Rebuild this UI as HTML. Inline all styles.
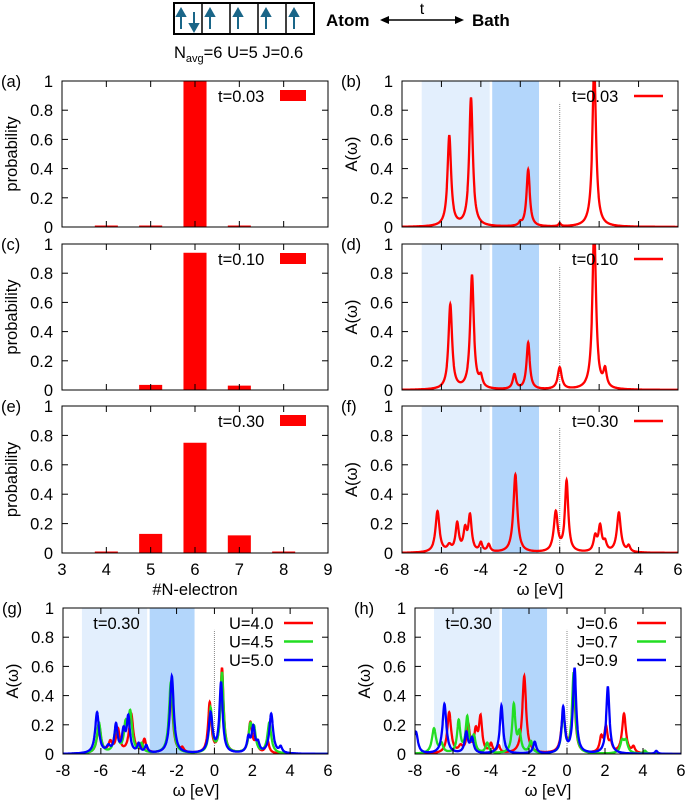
<!DOCTYPE html>
<html><head><meta charset="utf-8">
<style>
body{margin:0;background:#fff;}
svg{display:block;font-family:"Liberation Sans",sans-serif;}
</style></head>
<body>
<svg id="fig" width="685" height="802" viewBox="0 0 685 802" xmlns="http://www.w3.org/2000/svg">
<g>
  <rect x="174" y="3" width="140" height="31" fill="none" stroke="#000" stroke-width="2"/>
  <line x1="202" y1="3" x2="202" y2="34" stroke="#000" stroke-width="1.5"/>
  <line x1="230" y1="3" x2="230" y2="34" stroke="#000" stroke-width="1.5"/>
  <line x1="258" y1="3" x2="258" y2="34" stroke="#000" stroke-width="1.5"/>
  <line x1="286" y1="3" x2="286" y2="34" stroke="#000" stroke-width="1.5"/>
  <g stroke="#1a6688" stroke-width="2" fill="#1a6688">
    <line x1="181" y1="29" x2="181" y2="14"/><polygon points="177,16 185,16 181,9"/>
    <line x1="194" y1="12" x2="194" y2="26"/><polygon points="190,24 198,24 194,31"/>
    <line x1="210" y1="29" x2="210" y2="14"/><polygon points="206,16 214,16 210,9"/>
    <line x1="238" y1="29" x2="238" y2="14"/><polygon points="234,16 242,16 238,9"/>
    <line x1="266" y1="29" x2="266" y2="14"/><polygon points="262,16 270,16 266,9"/>
    <line x1="294" y1="29" x2="294" y2="14"/><polygon points="290,16 298,16 294,9"/>
  </g>
  <text x="326" y="26" font-size="17" font-weight="bold">Atom</text>
  <text x="472" y="26" font-size="17" font-weight="bold">Bath</text>
  <text x="422" y="14" font-size="16" text-anchor="middle">t</text>
  <line x1="386" y1="20" x2="458" y2="20" stroke="#000" stroke-width="1.5"/>
  <polygon points="380,20 389,16 389,24"/><polygon points="464,20 455,16 455,24"/>
  <text x="174" y="58" font-size="16.5">N<tspan font-size="11" dy="4">avg</tspan><tspan dy="-4">=6  U=5  J=0.6</tspan></text>
</g>
<g id="plots"></g>
</svg>
<script>
// ---- data ----
const nCategories=[4,5,6,7,8];
const probT003=[0.003,0.003,1.0,0.003,0];
const probT010=[0,0.035,0.94,0.03,0];
const probT030=[0.003,0.13,0.75,0.12,0.003];
const probTicks=[0,0.2,0.4,0.6,0.8,1];
const nTicks=[3,4,5,6,7,8,9];
const wTicks=[-8,-6,-4,-2,0,2,4,6];
// peaks: [position eV, height, halfwidth]
const peaksT003=[[-5.6,0.62,0.11],[-4.5,0.88,0.11],[-2.0,0.02,0.08],[-1.6,0.39,0.1],[0,0.02,0.07],[1.75,1.1,0.11]];
const peaksT010=[[-5.55,0.58,0.11],[-4.45,0.78,0.11],[-4.0,0.07,0.1],[-2.3,0.1,0.1],[-1.6,0.32,0.1],[0,0.15,0.12],[1.75,1.1,0.11],[2.3,0.12,0.1]];
const peaksT030=[[-6.2,0.28,0.12],[-5.6,0.04,0.12],[-5.2,0.19,0.1],[-4.8,0.14,0.1],[-4.55,0.24,0.1],[-4.0,0.06,0.09],[-3.6,0.05,0.09],[-2.25,0.53,0.12],[-0.2,0.27,0.12],[0.35,0.48,0.1],[1.8,0.1,0.1],[2.05,0.17,0.1],[2.3,0.06,0.1],[3.0,0.27,0.12],[3.5,0.04,0.09]];
const peaksU40=[[-6.1,0.2,0.12],[-5.5,0.07,0.12],[-5.1,0.16,0.12],[-4.4,0.27,0.13],[-3.7,0.09,0.1],[-2.3,0.43,0.12],[-1.7,0.03,0.1],[-0.25,0.34,0.1],[0.4,0.58,0.1],[1.9,0.21,0.12],[2.2,0.07,0.1],[2.8,0.09,0.1]];
const peaksU45=[[-6.1,0.21,0.12],[-5.2,0.17,0.12],[-4.7,0.17,0.1],[-4.45,0.27,0.12],[-3.85,0.06,0.1],[-2.3,0.49,0.12],[-0.2,0.3,0.1],[0.4,0.55,0.1],[1.9,0.18,0.12],[2.1,0.14,0.1],[2.9,0.21,0.12]];
const peaksU50=peaksT030;
const peaksJ06=peaksT030;
const peaksJ07=[[-7.0,0.17,0.13],[-6.6,0.06,0.1],[-5.7,0.22,0.1],[-5.25,0.24,0.1],[-4.9,0.11,0.1],[-4.2,0.07,0.1],[-2.8,0.33,0.1],[-2.5,0.13,0.1],[-1.9,0.08,0.1],[-0.2,0.28,0.1],[0.35,0.55,0.1],[2.9,0.08,0.12],[3.1,0.08,0.12],[4.1,0.02,0.09]];
const peaksJ09=[[-7.95,0.15,0.12],[-6.45,0.34,0.12],[-5.3,0.14,0.1],[-5.0,0.1,0.1],[-3.45,0.33,0.1],[-1.7,0.08,0.1],[-0.2,0.31,0.1],[0.4,0.58,0.1],[2.15,0.46,0.1],[4.7,0.02,0.08]];

const NS='http://www.w3.org/2000/svg';
const FS=16.5;
const root=document.getElementById('plots');
function mk(tag,attrs,parent){const e=document.createElementNS(NS,tag);for(const k in attrs)e.setAttribute(k,attrs[k]);(parent||root).appendChild(e);return e;}
let clipId=0;
function axes(box,xmin,xmax,xticks,showXLabels,label,ylab,name){
  const g=mk('g',{});
  
  
  const sx=v=>box.L+(v-xmin)/(xmax-xmin)*(box.R-box.L);
  const sy=v=>box.B-v*(box.B-box.T);
  const id='c'+(clipId++);
  const cp=mk('clipPath',{id:id},g);mk('rect',{x:box.L,y:box.T,width:box.R-box.L,height:box.B-box.T},cp);
  return {g,sx,sy,id,box,xticks,showXLabels,label,ylab};
}
function frame(A){
  const {g,sx,sy,box}=A;
  const fr=mk('rect',{x:box.L,y:box.T,width:box.R-box.L,height:box.B-box.T,fill:'none',stroke:'#000','stroke-width':1},g);
  
  
  probTicks.forEach(v=>{
    const y=sy(v);
    mk('line',{x1:box.L,y1:y,x2:box.L+6,y2:y,stroke:'#000'},g);
    mk('line',{x1:box.R,y1:y,x2:box.R-6,y2:y,stroke:'#000'},g);
    const t=mk('text',{x:box.L-9,y:y+6,'font-size':FS,'text-anchor':'end'},g);t.textContent=String(v);
    
    
  });
  A.xticks.forEach(v=>{
    const x=sx(v);
    mk('line',{x1:x,y1:box.B,x2:x,y2:box.B-6,stroke:'#000'},g);
    mk('line',{x1:x,y1:box.T,x2:x,y2:box.T+6,stroke:'#000'},g);
    if(A.showXLabels){const t=mk('text',{x:x,y:box.B+22,'font-size':FS,'text-anchor':'middle'},g);t.textContent=String(v);
      
      }
  });
  const pl=mk('text',{x:box.L-61,y:box.T+6,'font-size':FS},g);pl.textContent=A.label;
  
  
  const cx=box.L-45,cy=(box.T+box.B)/2;
  const yl=mk('text',{x:cx,y:cy,'font-size':FS,'text-anchor':'middle',transform:`rotate(-90 ${cx} ${cy})`},g);yl.textContent=A.ylab;
  
  
}
function barPanel(box,vals,leg,label,showX,name){
  const A=axes(box,3,9,nTicks,showX,label,'probability',name);
  const bw=(A.sx(1)-A.sx(0))*0.52;
  nCategories.forEach((c,i)=>{
    if(vals[i]<=0)return;
    const h=Math.max(1.5,A.sy(0)-A.sy(vals[i]));
    const r=mk('rect',{x:A.sx(c)-bw/2,y:A.sy(0)-h,width:bw,height:h,fill:'#ff0000'},A.g);
    
    
  });
  frame(A);
  const t=mk('text',{x:box.R-110,y:box.T+21,'font-size':FS},A.g);t.textContent=leg;
  
  
  const s=mk('rect',{x:box.R-48,y:box.T+9,width:26,height:11,fill:'#ff0000'},A.g);
  
  
  return A;
}
function curve(peaks){
  const pts=[];
  for(let i=0;i<=1400;i++){const w=-8+i*0.01;let v=0;peaks.forEach(p=>{const d=w-p[0];v+=p[1]*p[2]*p[2]/(d*d+p[2]*p[2]);});pts.push([w,v]);}
  return pts;
}
function specPanel(box,seriesList,label,showX,name,legendX,tLabel){
  const A=axes(box,-8,6,wTicks,showX,label,'A(\u03c9)',name);
  const {g,sx,sy}=A;
  const b1=mk('rect',{x:sx(-7),y:box.T,width:sx(-3.5)-sx(-7)-1,height:box.B-box.T,fill:'#e3effd'},g);
  
  
  const b2=mk('rect',{x:sx(-3.5)+1.5,y:box.T,width:sx(-1.05)-sx(-3.5)-1.5,height:box.B-box.T,fill:'#b3d6fb'},g);
  
  
  const z=mk('line',{x1:sx(0),y1:sy(0),x2:sx(0),y2:sy(0.85),stroke:'#888','stroke-width':1,'stroke-dasharray':'1,1'},g);
  
  
  seriesList.forEach((s,k)=>{
    const pts=curve(s.peaks);
    const d=pts.map((p,i)=>(i?'L':'M')+sx(p[0]).toFixed(1)+','+sy(p[1]).toFixed(1)).join('');
    const path=mk('path',{d:d,fill:'none',stroke:s.color,'stroke-width':2.3,'clip-path':`url(#${A.id})`},g);
    
    
    const ly=box.T+21+k*18.5;
    const t=mk('text',{x:legendX,y:ly,'font-size':FS},g);t.textContent=s.leg;
    
    
    const l=mk('line',{x1:box.R-44,y1:ly-6,x2:box.R-15,y2:ly-6,stroke:s.color,'stroke-width':2.5},g);
    
    
  });
  if(tLabel){const t=mk('text',{x:sx(-6.4),y:box.T+21,'font-size':FS},g);t.textContent=tLabel;
    
    }
  frame(A);
  return A;
}
const L1=62,R1=328,L2=402,R2=678;
barPanel({L:L1,R:R1,T:81,B:227},probT003,'t=0.03','(a)',false,'panel-a');
barPanel({L:L1,R:R1,T:244,B:390},probT010,'t=0.10','(c)',false,'panel-c');
barPanel({L:L1,R:R1,T:406,B:553},probT030,'t=0.30','(e)',true,'panel-e');
specPanel({L:L2,R:R2,T:81,B:227},[{peaks:peaksT003,color:'#ff0000',leg:'t=0.03',name:'t003'}],'(b)',false,'panel-b',R2-106);
specPanel({L:L2,R:R2,T:244,B:390},[{peaks:peaksT010,color:'#ff0000',leg:'t=0.10',name:'t010'}],'(d)',false,'panel-d',R2-106);
specPanel({L:L2,R:R2,T:406,B:553},[{peaks:peaksT030,color:'#ff0000',leg:'t=0.30',name:'t030'}],'(f)',true,'panel-f',R2-106);
specPanel({L:63,R:328,T:608,B:754},[{peaks:peaksU40,color:'#ff0000',leg:'U=4.0',name:'u40'},{peaks:peaksU45,color:'#22dd22',leg:'U=4.5',name:'u45'},{peaks:peaksU50,color:'#0000ff',leg:'U=5.0',name:'u50'}],'(g)',true,'panel-g',229,'t=0.30');
specPanel({L:415,R:681,T:608,B:754},[{peaks:peaksJ06,color:'#ff0000',leg:'J=0.6',name:'j06'},{peaks:peaksJ07,color:'#22dd22',leg:'J=0.7',name:'j07'},{peaks:peaksJ09,color:'#0000ff',leg:'J=0.9',name:'j09'}],'(h)',true,'panel-h',577,'t=0.30');
function xt(x,y,s){const t=mk('text',{x:x,y:y,'font-size':FS,'text-anchor':'middle'});t.textContent=s;
  
  }
xt(195,595,'#N-electron');xt(540,595,'\u03c9 [eV]');xt(196,796,'\u03c9 [eV]');xt(548,796,'\u03c9 [eV]');
</script>
</body></html>
